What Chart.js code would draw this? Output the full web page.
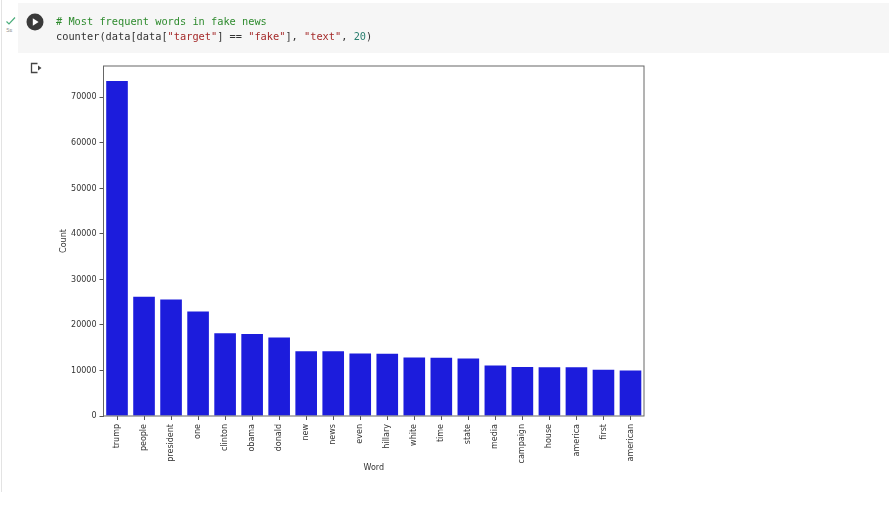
<!DOCTYPE html>
<html><head><meta charset="utf-8">
<script src="https://cdn.jsdelivr.net/npm/chart.js@4"></script>
<style>
html,body{margin:0;padding:0;background:#fff;width:895px;height:513px;overflow:hidden}
#c{position:absolute;left:0;top:0;filter:blur(0.35px)}
.a{position:absolute}
#edge{left:1px;top:0;width:1px;height:492px;background:#e3e3e3}
#cell{left:18px;top:3px;width:871px;height:50px;background:#f6f6f6}
#code{left:56px;top:13.5px;font:10.3px/15.5px "DejaVu Sans Mono","Liberation Mono",monospace;color:#333;white-space:pre;filter:blur(0.25px)}
.g{color:#2e8b2e}.r{color:#a52a2a}.n{color:#2a7f6f}
#secs{left:6px;top:26px;font:6px "Roboto",sans-serif;color:#9a9a9a}
svg{position:absolute}
</style></head><body>
<div class="a" id="edge"></div>
<div class="a" id="cell"></div>
<div class="a" id="code"><span class="g"># Most frequent words in fake news</span>
counter(data[data[<span class="r">"target"</span>] == <span class="r">"fake"</span>], <span class="r">"text"</span>, <span class="n">20</span>)</div>
<div class="a" id="secs">5s</div>
<svg style="left:5px;top:16px" width="12" height="10"><path d="M1.5 5.5 L4 8 L10 1.5" fill="none" stroke="#4cae7c" stroke-width="1.2"/></svg>
<svg style="left:26px;top:13px" width="18" height="18"><circle cx="9" cy="9" r="8.5" fill="#3a3a3a"/><path d="M6.8 5.3 L12.6 9 L6.8 12.7 Z" fill="#fff"/></svg>
<svg style="left:30px;top:62px" width="13" height="12"><path d="M7.5 1.5 H1.5 V10.5 H7.5" fill="none" stroke="#444" stroke-width="1.3"/><path d="M8 3.5 L11.5 6 L8 8.5 Z" fill="#444"/></svg>
<canvas id="c" width="895" height="513"></canvas>
<script>
const categories=["trump","people","president","one","clinton","obama","donald","new","news","even","hillary","white","time","state","media","campaign","house","america","first","american"];
const counts=[73600,26200,25600,22950,18200,18000,17250,14250,14200,13750,13700,12850,12800,12650,11100,10750,10700,10700,10150,10000];
const yMax=76900;
const yTicks=[0,10000,20000,30000,40000,50000,60000,70000];
const xTitle="Word";
const yTitle="Count";
const frame={id:"frame",afterDatasetsDraw(ch){const a=ch.chartArea,x=ch.ctx;x.save();x.strokeStyle="#666";x.lineWidth=1;x.strokeRect(a.left,a.top,a.right-a.left,a.bottom-a.top);x.restore();}};
new Chart(document.getElementById("c"),{
 type:"bar",
 data:{labels:categories,datasets:[{data:counts,backgroundColor:"#1c1cdc",borderWidth:0,categoryPercentage:1,barPercentage:0.8}]},
 plugins:[frame],
 options:{
  responsive:false,animation:false,devicePixelRatio:1,
  layout:{padding:{left:59.5,right:251,top:66,bottom:0}},
  plugins:{legend:{display:false},tooltip:{enabled:false},title:{display:false}},
  scales:{
   x:{grid:{display:true,drawOnChartArea:false,drawTicks:true,tickLength:4,color:"#555",offset:false},border:{display:false},
      ticks:{minRotation:90,maxRotation:90,autoSkip:false,color:"#333",padding:4,font:{family:"DejaVu Sans",size:8}},
      title:{display:true,text:xTitle,color:"#333",font:{family:"DejaVu Sans",size:8},padding:{top:8,bottom:40}},
      afterFit(s){s.height=97;}},
   y:{min:0,max:yMax,grid:{drawOnChartArea:false,tickLength:4,color:"#555"},border:{display:false},
      afterBuildTicks(s){s.ticks=yTicks.map(v=>({value:v}));},
      ticks:{color:"#333",padding:3,font:{family:"DejaVu Sans",size:8},callback:v=>String(v)},
      title:{display:true,text:yTitle,color:"#333",font:{family:"DejaVu Sans",size:8},padding:{top:0,bottom:6}},
      afterFit(s){s.width=44;}}
  }
 }
});
</script>
</body></html>
